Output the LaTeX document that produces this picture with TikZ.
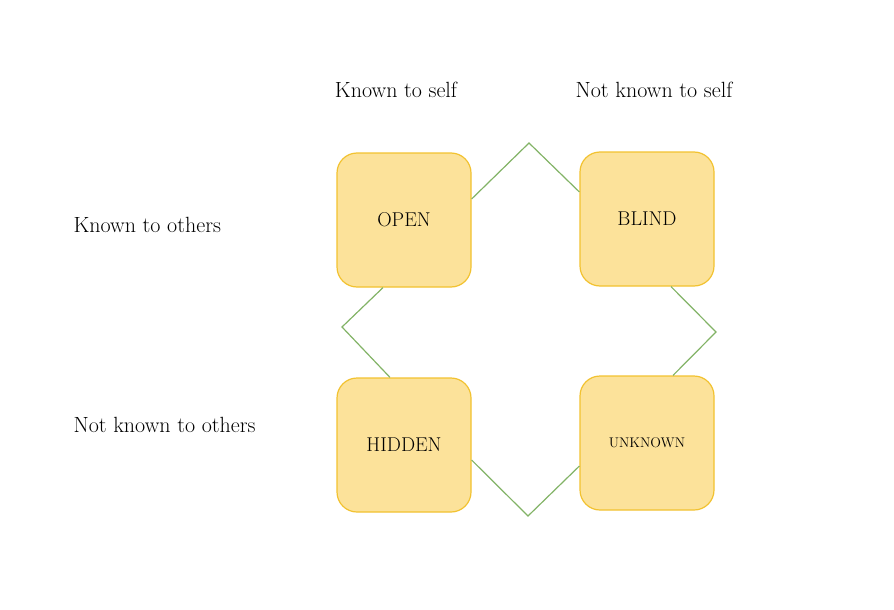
\documentclass[tikz,border=0pt]{standalone}
\usetikzlibrary{calc}
\definecolor{boxfill}{HTML}{FCE29A}
\definecolor{boxdraw}{HTML}{F2C230}
\definecolor{linkgreen}{HTML}{82B366}
\begin{document}
\begin{tikzpicture}[x=1pt,y=-1pt,
    quad/.style={draw=boxdraw, fill=boxfill, line width=1.2pt, rounded corners=20pt,
        minimum width=134pt, minimum height=134pt, inner sep=0pt, font=\fontsize{20}{24}\selectfont},
    link/.style={draw=linkgreen, line width=1.2pt},
    lbl/.style={anchor=west, font=\fontsize{22}{26}\selectfont}]
    \useasboundingbox (0,0) rectangle (894,610);

    % quadrants
    \node[quad] (open) at (404,220) {OPEN};
    \node[quad] (blind) at (647,219) {BLIND};
    \node[quad] (hidden) at (404,445) {HIDDEN};
    \node[quad, font=\fontsize{14}{17}\selectfont] (unknown) at (647,443) {UNKNOWN};

    % headings
    \node[font=\fontsize{22}{26}\selectfont] (kself) at (396,90) {Known to self};
    \node[font=\fontsize{22}{26}\selectfont] (nkself) at (654,90) {Not known to self};
    \node[lbl] (kothers) at (70,225) {Known to others};
    \node[lbl] (nkothers) at (70,425) {Not known to others};

    % bends
    \coordinate (top) at (529,143);
    \coordinate (left) at (342,327);
    \coordinate (right) at (716,332);
    \coordinate (bottom) at (528,516);

    % connectors
    \draw[link] ($(open.east)+(0,-21)$) -- (top) -- ($(blind.west)+(0,-27)$);
    \draw[link] ($(open.south)+(-21,0)$) -- (left) -- ($(hidden.north)+(-14,0)$);
    \draw[link] ($(blind.south)+(24,0)$) -- (right) -- ($(unknown.north)+(26,0)$);
    \draw[link] ($(hidden.east)+(0,15)$) -- (bottom) -- ($(unknown.west)+(0,23)$);
\end{tikzpicture}
\end{document}
